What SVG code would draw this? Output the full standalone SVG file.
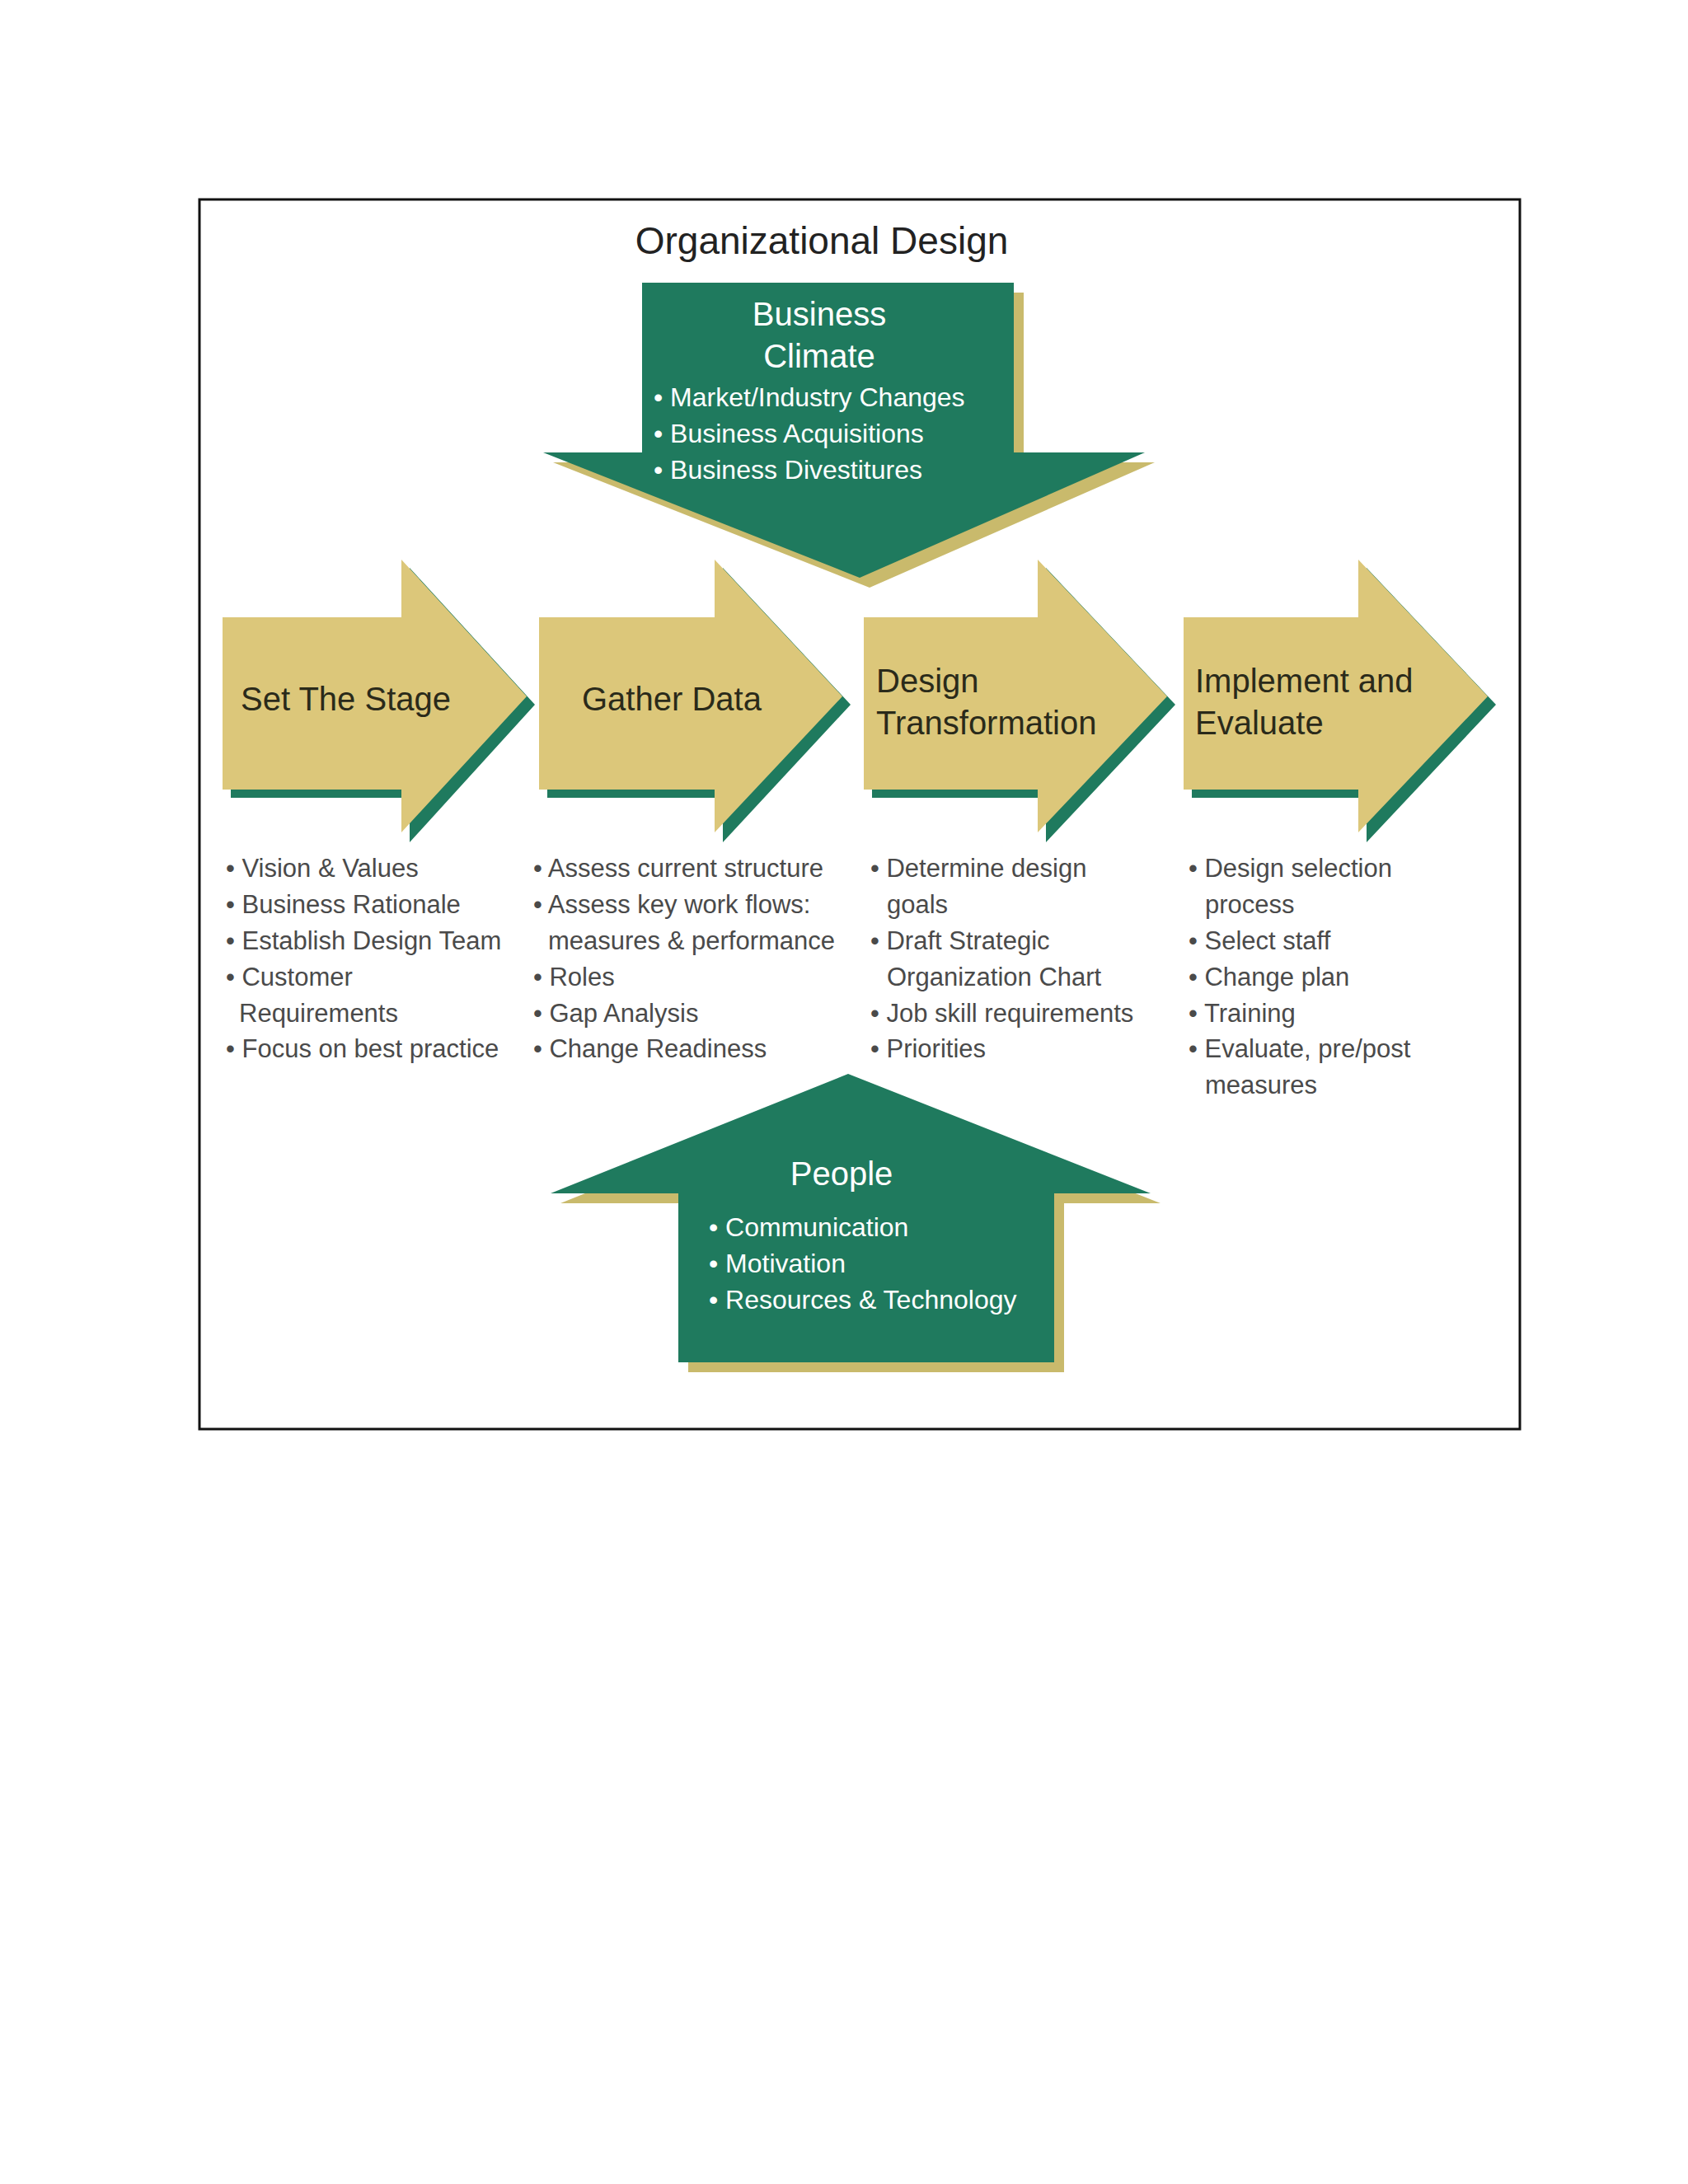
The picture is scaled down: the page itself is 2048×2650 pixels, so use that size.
<svg xmlns="http://www.w3.org/2000/svg" width="2048" height="2650" viewBox="0 0 2048 2650">
<style>
text{font-family:"Liberation Sans",Arial,sans-serif}
.title{font-size:46px;fill:#222}
.wh{fill:#fff}
.big{font-size:40px}
.sm{font-size:32px}
.lab{font-size:40px;fill:#2a2a1a}
.li{font-size:31px;fill:#4a4a4a}
.g{fill:#1f7a5e}
.y{fill:#dcc77a}
.ol{fill:#c9ba6c}
</style>
<rect width="2048" height="2650" fill="#fff"/>
<rect x="242" y="242" width="1602" height="1492" fill="none" stroke="#111" stroke-width="3"/>
<text class="title" x="997" y="308" text-anchor="middle">Organizational Design</text>
<g id="business-climate">
<polygon class="ol" points="791,355 1242,355 1242,561 1401,561 1055,713 671,561 791,561"/>
<polygon class="g" points="779,343 1230,343 1230,549 1389,549 1043,701 659,549 779,549"/>
<text class="wh big" x="994" y="395" text-anchor="middle">Business</text>
<text class="wh big" x="994" y="446" text-anchor="middle">Climate</text>
<text class="wh sm" x="793" y="493">• Market/Industry Changes</text>
<text class="wh sm" x="793" y="537">• Business Acquisitions</text>
<text class="wh sm" x="793" y="581">• Business Divestitures</text>
</g>
<g id="set-the-stage">
<polygon class="g" points="280,759 497,759 497,689 649,855 497,1022 497,968 280,968"/>
<polygon class="y" points="270,749 487,749 487,679 639,845 487,1010 487,958 270,958"/>
<text class="lab" x="292" y="862">Set The Stage</text>
</g>
<g id="gather-data">
<polygon class="g" points="664,759 877,759 877,689 1032,855 877,1022 877,968 664,968"/>
<polygon class="y" points="654,749 867,749 867,679 1022,845 867,1010 867,958 654,958"/>
<text class="lab" x="706" y="862">Gather Data</text>
</g>
<g id="design-transformation">
<polygon class="g" points="1058,759 1269,759 1269,689 1426,855 1269,1022 1269,968 1058,968"/>
<polygon class="y" points="1048,749 1259,749 1259,679 1416,845 1259,1010 1259,958 1048,958"/>
<text class="lab" x="1063" y="840">Design</text>
<text class="lab" x="1063" y="891">Transformation</text>
</g>
<g id="implement-evaluate">
<polygon class="g" points="1446,759 1658,759 1658,689 1815,855 1658,1022 1658,968 1446,968"/>
<polygon class="y" points="1436,749 1648,749 1648,679 1805,845 1648,1010 1648,958 1436,958"/>
<text class="lab" x="1450" y="840">Implement and</text>
<text class="lab" x="1450" y="891">Evaluate</text>
</g>
<g id="lists">
<text class="li" x="274" y="1064">• Vision &amp; Values</text>
<text class="li" x="274" y="1108">• Business Rationale</text>
<text class="li" x="274" y="1152">• Establish Design Team</text>
<text class="li" x="274" y="1196">• Customer</text>
<text class="li" x="290" y="1240">Requirements</text>
<text class="li" x="274" y="1283">• Focus on best practice</text>
<text class="li" x="647" y="1064">• Assess current structure</text>
<text class="li" x="647" y="1108">•  Assess key work flows:</text>
<text class="li" x="665" y="1152">measures &amp; performance</text>
<text class="li" x="647" y="1196">• Roles</text>
<text class="li" x="647" y="1240">• Gap Analysis</text>
<text class="li" x="647" y="1283">• Change Readiness</text>
<text class="li" x="1056" y="1064">• Determine design</text>
<text class="li" x="1076" y="1108">goals</text>
<text class="li" x="1056" y="1152">• Draft Strategic</text>
<text class="li" x="1076" y="1196">Organization Chart</text>
<text class="li" x="1056" y="1240">• Job skill requirements</text>
<text class="li" x="1056" y="1283">• Priorities</text>
<text class="li" x="1442" y="1064">• Design selection</text>
<text class="li" x="1462" y="1108">process</text>
<text class="li" x="1442" y="1152">• Select staff</text>
<text class="li" x="1442" y="1196">• Change plan</text>
<text class="li" x="1442" y="1240">• Training</text>
<text class="li" x="1442" y="1283">• Evaluate, pre/post</text>
<text class="li" x="1462" y="1327">measures</text>
</g>
<g id="people">
<polygon class="ol" points="1041,1315 1408,1460 1291,1460 1291,1665 835,1665 835,1460 680,1460"/>
<polygon class="g" points="1029,1303 1396,1448 1279,1448 1279,1653 823,1653 823,1448 668,1448"/>
<text class="wh big" x="1021" y="1438" text-anchor="middle">People</text>
<text class="wh sm" x="860" y="1500">• Communication</text>
<text class="wh sm" x="860" y="1544">• Motivation</text>
<text class="wh sm" x="860" y="1588">• Resources &amp; Technology</text>
</g>
<g id="connectors"></g>
</svg>
